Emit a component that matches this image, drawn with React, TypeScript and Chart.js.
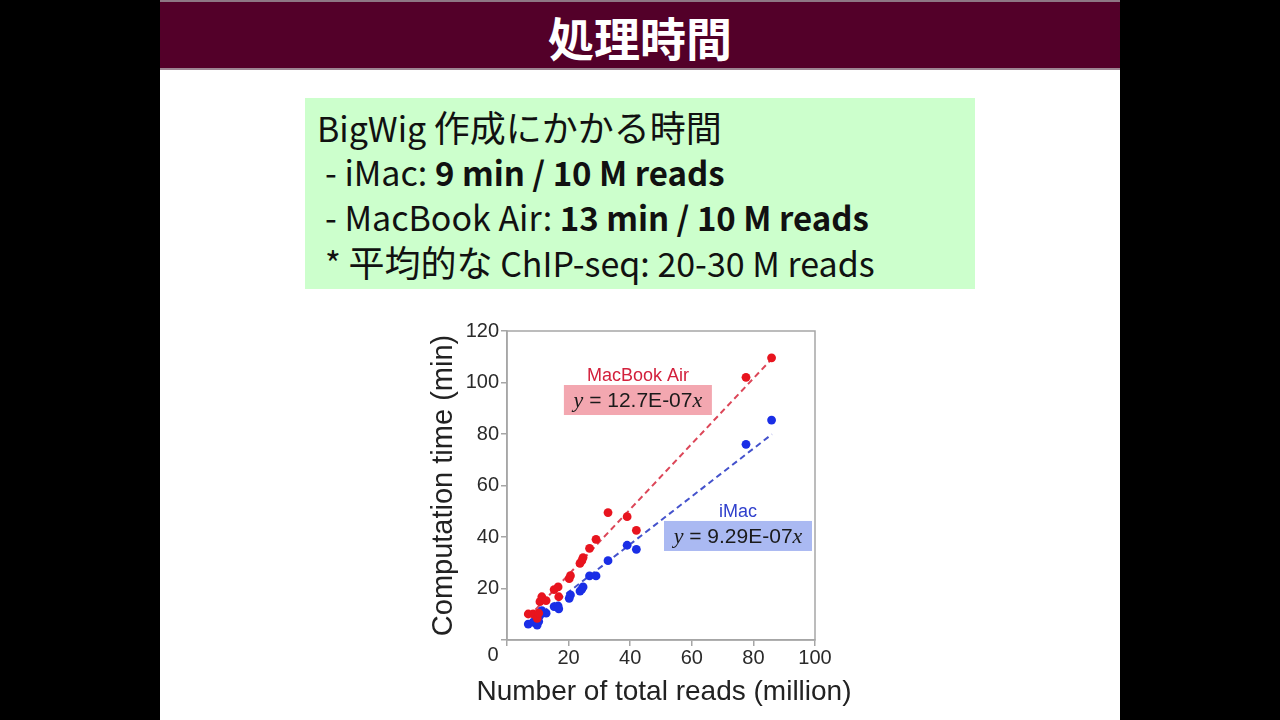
import React, { useEffect, useRef } from 'react';
import { Chart, registerables } from 'chart.js';

Chart.register(...registerables);

// ---- data ----
const reads = [6.9, 8.5, 9.8, 10.3, 10.7, 11.3, 12.7, 15.3, 16.6, 16.8, 20.2, 20.6, 23.7, 24.3, 24.7, 26.8, 28.9, 32.8, 39.0, 42.0, 77.6, 85.9];
const macbookAir = [10.1, 10.1, 8.4, 10.4, 14.9, 16.8, 15.3, 19.6, 20.6, 16.8, 23.8, 25.0, 29.8, 30.8, 32.0, 35.6, 39.1, 49.5, 47.9, 42.6, 102.0, 109.6];
const iMac = [6.2, 6.9, 5.8, 7.2, 9.6, 11.4, 10.4, 13.0, 13.2, 12.1, 16.2, 17.5, 19.0, 19.8, 20.6, 24.9, 24.9, 30.8, 36.8, 35.2, 76.0, 85.4];

const macTrendX = [7, 86];
const macTrendY = [8.9, 109.2];
const imacTrendX = [9, 86];
const imacTrendY = [8.4, 79.9];

const xTickValues = [0, 20, 40, 60, 80, 100];
const yTickValues = [0, 20, 40, 60, 80, 100, 120];

const seriesNames = ['MacBook Air', 'iMac'];
const equations = ['12.7E-07', '9.29E-07'];
const xTitle = 'Number of total reads (million)';
const yTitle = 'Computation time (min)';

const SANS = '"Liberation Sans", Arial, sans-serif';
const SERIF = '"Liberation Serif", "Times New Roman", serif';

// annotation anchors (data space) and styling
const annotations = [
  { name: seriesNames[0], eq: equations[0], ax: 42.5, ay: 93.2, nameColor: '#d3203c', boxColor: '#f3a7b0' },
  { name: seriesNames[1], eq: equations[1], ax: 75.0, ay: 40.4, nameColor: '#3040cc', boxColor: '#aab9f2' },
];

const overlayPlugin = {
  id: 'overlay',
  afterDraw(chart: any) {
    const { ctx, chartArea: a, scales } = chart;
    const x = scales.x;
    const y = scales.y;
    ctx.save();
    // frame
    ctx.strokeStyle = '#a6a6a6';
    ctx.lineWidth = 1.5;
    ctx.strokeRect(a.left, a.top, a.right - a.left, a.bottom - a.top);
    // shared origin label
    ctx.fillStyle = '#2a2a2a';
    ctx.font = `20px ${SANS}`;
    ctx.textAlign = 'center';
    ctx.textBaseline = 'middle';
    ctx.fillText('0', x.getPixelForValue(0) - 14, y.getPixelForValue(0) + 15);
    // x-axis title (drawn without width squeeze)
    ctx.fillStyle = '#222';
    ctx.font = `28px ${SANS}`;
    ctx.fillText(xTitle, (a.left + a.right) / 2 + 3, x.bottom - 18);

    for (const an of annotations) {
      const cx = x.getPixelForValue(an.ax);
      const cy = y.getPixelForValue(an.ay);
      const bw = 148;
      const bh = 30;
      ctx.fillStyle = an.boxColor;
      ctx.fillRect(cx - bw / 2, cy - bh / 2, bw, bh);
      // name above
      ctx.fillStyle = an.nameColor;
      ctx.font = `18px ${SANS}`;
      ctx.textAlign = 'center';
      ctx.textBaseline = 'middle';
      ctx.fillText(an.name, cx, cy - 24);
      // equation
      const parts = [
        { t: 'y', f: `italic 22px ${SERIF}` },
        { t: ' = ' + an.eq, f: `21px ${SANS}` },
        { t: 'x', f: `italic 22px ${SERIF}` },
      ];
      let total = 0;
      for (const p of parts) {
        ctx.font = p.f;
        total += ctx.measureText(p.t).width;
      }
      let px = cx - total / 2;
      ctx.fillStyle = '#1a1a1a';
      ctx.textAlign = 'left';
      ctx.textBaseline = 'middle';
      for (const p of parts) {
        ctx.font = p.f;
        ctx.fillText(p.t, px, cy + 1);
        px += ctx.measureText(p.t).width;
      }
    }
    ctx.restore();
  },
};

function ComputationChart() {
  const ref = useRef<HTMLCanvasElement | null>(null);
  useEffect(() => {
    if (!ref.current) return;
    const chart = new Chart(ref.current, {
      type: 'scatter',
      data: {
        datasets: [
          {
            label: seriesNames[0],
            data: reads.map((r, i) => ({ x: r, y: macbookAir[i] })),
            backgroundColor: '#e8141e',
            borderColor: '#e8141e',
            pointRadius: 4.4,
            pointBorderWidth: 0,
            order: 0,
          },
          {
            label: seriesNames[1],
            data: reads.map((r, i) => ({ x: r, y: iMac[i] })),
            backgroundColor: '#1a2ee6',
            borderColor: '#1a2ee6',
            pointRadius: 4.4,
            pointBorderWidth: 0,
            order: 0,
          },
          {
            type: 'line',
            label: 'MacBook Air fit',
            data: macTrendX.map((v, i) => ({ x: v, y: macTrendY[i] })),
            borderColor: '#dc4658',
            borderWidth: 2,
            borderDash: [6, 4],
            pointRadius: 0,
            fill: false,
            order: 1,
          } as any,
          {
            type: 'line',
            label: 'iMac fit',
            data: imacTrendX.map((v, i) => ({ x: v, y: imacTrendY[i] })),
            borderColor: '#4452cc',
            borderWidth: 2,
            borderDash: [6, 4],
            pointRadius: 0,
            fill: false,
            order: 1,
          } as any,
        ],
      },
      options: {
        animation: false,
        responsive: true,
        maintainAspectRatio: false,
        layout: { padding: { top: 21, right: 45, left: 0, bottom: 0 } },
        plugins: { legend: { display: false }, tooltip: { enabled: false } },
        scales: {
          x: {
            type: 'linear',
            min: xTickValues[0],
            max: xTickValues[xTickValues.length - 1],
            afterBuildTicks: (s: any) => {
              s.ticks = xTickValues.map((v) => ({ value: v }));
            },
            afterFit: (s: any) => {
              s.height = 70;
            },
            ticks: {
              callback: (v: any) => (v === 0 ? '' : String(v)),
              font: { size: 20, family: SANS },
              color: '#2a2a2a',
              padding: 0,
              maxRotation: 0,
            },
            grid: { drawOnChartArea: false, drawTicks: true, tickLength: 6, color: '#a6a6a6', lineWidth: 1.5 },
            border: { display: true, color: '#a6a6a6', width: 1.5 },
            title: { display: false, text: xTitle },
          },
          y: {
            type: 'linear',
            min: yTickValues[0],
            max: yTickValues[yTickValues.length - 1],
            afterBuildTicks: (s: any) => {
              s.ticks = yTickValues.map((v) => ({ value: v }));
            },
            afterFit: (s: any) => {
              s.width = 87;
            },
            ticks: {
              callback: (v: any) => (v === 0 ? '' : String(v)),
              font: { size: 20, family: SANS },
              color: '#2a2a2a',
              padding: 2,
            },
            grid: { drawOnChartArea: false, drawTicks: true, tickLength: 6, color: '#a6a6a6', lineWidth: 1.5 },
            border: { display: true, color: '#a6a6a6', width: 1.5 },
            title: {
              display: true,
              text: yTitle,
              font: { size: 29, family: SANS },
              color: '#222',
              padding: { top: 7, bottom: 0 },
            },
          },
        },
      },
      plugins: [overlayPlugin],
    } as any);
    return () => chart.destroy();
  }, []);
  return <canvas ref={ref} />;
}

const CJK = '"Noto Sans CJK JP", "Noto Sans", sans-serif';

export default function App() {
  const line: React.CSSProperties = { height: 45, lineHeight: '45px', whiteSpace: 'nowrap' };
  const jp: React.CSSProperties = { fontSize: 36 };
  const bold: React.CSSProperties = { fontWeight: 700, fontSize: 33 };
  return (
    <div style={{ position: 'fixed', left: 0, top: 0, width: 1280, height: 720, background: '#000', overflow: 'hidden' }}>
      <div style={{ position: 'absolute', left: 160, top: 0, width: 960, height: 720, background: '#fff' }}>
        <div
          style={{
            position: 'absolute',
            left: 0,
            top: 0,
            width: 960,
            height: 66,
            background: '#530029',
            borderTop: '2px solid #8e7684',
            borderBottom: '2px solid #9c8592',
            color: '#fff',
            fontFamily: CJK,
            fontWeight: 700,
            fontSize: 46,
            lineHeight: '68px',
            textAlign: 'center',
          }}
        >
          処理時間
        </div>
        <div
          style={{
            position: 'absolute',
            left: 145,
            top: 98,
            width: 670,
            height: 191,
            background: '#ccffcc',
            fontFamily: CJK,
            fontSize: 34,
            color: '#111',
            boxSizing: 'border-box',
            paddingTop: 6,
          }}
        >
          <div style={{ ...line, paddingLeft: 12 }}>
            BigWig <span style={jp}>作成にかかる時間</span>
          </div>
          <div style={{ ...line, paddingLeft: 20 }}>
            - iMac: <span style={bold}>9 min / 10 M reads</span>
          </div>
          <div style={{ ...line, paddingLeft: 20 }}>
            - MacBook Air: <span style={bold}>13 min / 10 M reads</span>
          </div>
          <div style={{ ...line, paddingLeft: 20 }}>
            * <span style={jp}>平均的な</span> ChIP-seq: 20-30 M reads
          </div>
        </div>
        <div style={{ position: 'absolute', left: 260, top: 310, width: 440, height: 400 }}>
          <ComputationChart />
        </div>
      </div>
    </div>
  );
}
